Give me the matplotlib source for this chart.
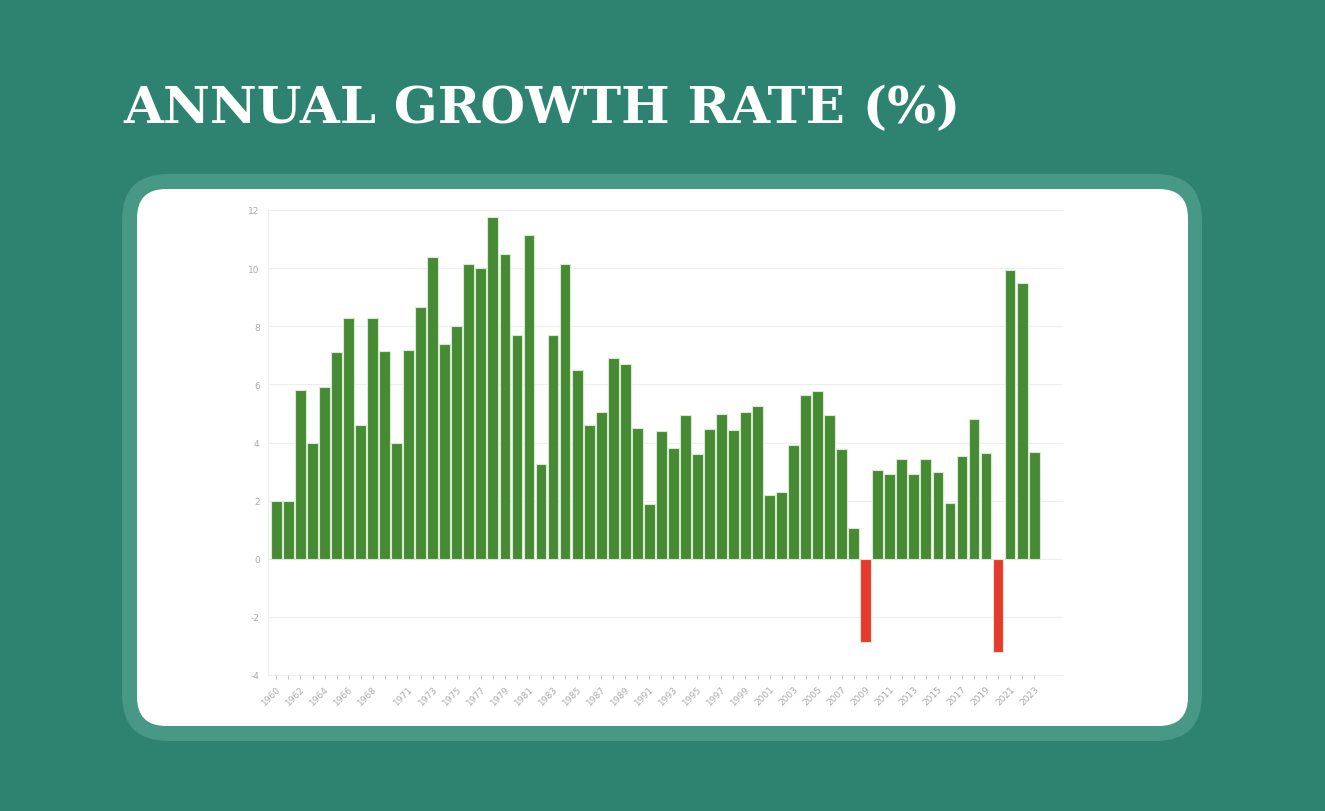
import matplotlib
matplotlib.use("Agg")
import matplotlib.pyplot as plt
from matplotlib.patches import FancyBboxPatch

years = list(range(1960, 2024))
growth = [2.0, 2.0, 5.8, 4.0, 5.9, 7.1, 8.3, 4.6, 8.3, 7.15,
          4.0, 7.2, 8.65, 10.4, 7.4, 8.0, 10.15, 10.0, 11.75, 10.5,
          7.7, 11.15, 3.25, 7.7, 10.15, 6.5, 4.6, 5.05, 6.9, 6.7,
          4.5, 1.9, 4.41, 3.8, 4.95, 3.6, 4.45, 4.98, 4.44, 5.06,
          5.25, 2.2, 2.31, 3.92, 5.65, 5.76, 4.94, 3.77, 1.07, -2.85,
          3.07, 2.91, 3.43, 2.91, 3.44, 2.97, 1.93, 3.53, 4.82, 3.64,
          -3.2, 9.94, 9.5, 3.69]
labeled = [1960, 1962, 1964, 1966, 1968] + list(range(1971, 2024, 2))
yticks = [-4, -2, 0, 2, 4, 6, 8, 10, 12]

W, H = 1325, 812
fig = plt.figure(figsize=(W / 100, H / 100), dpi=100)
fig.patch.set_facecolor("#2E8370")

def fx(x): return x / W
def fy(y): return 1 - y / H

outer = FancyBboxPatch((fx(122), fy(742)), fx(1202) - fx(122), fy(175) - fy(742),
                       boxstyle="round,pad=0,rounding_size=0.035", transform=fig.transFigure,
                       facecolor="#479884", edgecolor="none", mutation_aspect=W / H, zorder=-10)
inner = FancyBboxPatch((fx(137), fy(727)), fx(1188) - fx(137), fy(190) - fy(727),
                       boxstyle="round,pad=0,rounding_size=0.022", transform=fig.transFigure,
                       facecolor="white", edgecolor="none", mutation_aspect=W / H, zorder=-9)
fig.patches.extend([outer, inner])

fig.text(fx(123), fy(110), "ANNUAL GROWTH RATE (%)", color="white", fontsize=37,
         fontweight="bold", family="DejaVu Serif", va="center", ha="left")

ax = fig.add_axes([fx(268), fy(676), fx(1063) - fx(268), fy(211) - fy(676)])
ax.set_zorder(5)
ax.set_facecolor("white")
x = list(range(len(years)))
colors = ["#468A34" if v >= 0 else "#E8392E" for v in growth]
ax.bar(x, growth, width=0.9, color=colors, edgecolor="#D8EAD2", linewidth=0.8, zorder=3)
ax.set_xlim(-0.7, 65.4)
ax.set_ylim(-4, 12)
ax.set_yticks(yticks)
ax.set_yticklabels([str(t) for t in yticks])
ax.set_xticks(x)
ax.set_xticklabels([str(y) if y in labeled else "" for y in years], rotation=45,
                   ha="right", rotation_mode="anchor")
ax.tick_params(axis="both", labelsize=6.5, colors="#AAAAAA", length=3, width=0.5)
ax.tick_params(axis="y", length=0, pad=6)
ax.grid(axis="y", color="#EEEEEE", linewidth=0.8, zorder=0)
for s in ["top", "right"]:
    ax.spines[s].set_visible(False)
ax.spines["left"].set_color("#EEEEEE")
ax.spines["bottom"].set_color("#EEEEEE")

fig.savefig("out.png", dpi=100, facecolor=fig.get_facecolor())
